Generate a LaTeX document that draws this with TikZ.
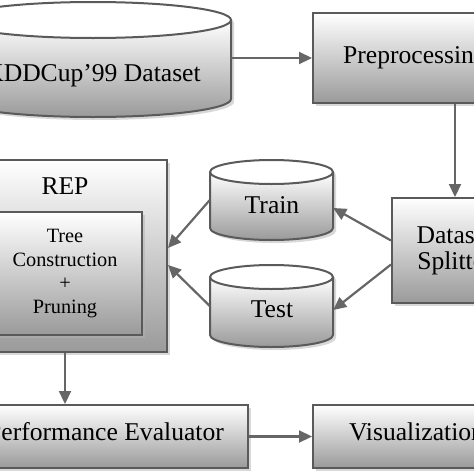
\documentclass[tikz,border=0pt]{standalone}
\usepackage{fontspec}
\setmainfont{Liberation Serif}
\usetikzlibrary{arrows.meta,shadows,calc}
\definecolor{bordercol}{HTML}{5A5A5A}
\definecolor{arrowcol}{HTML}{666666}
\definecolor{shadecol}{HTML}{9A9A9A}
\newcommand\mybigfont{\fontsize{25.6}{26}\selectfont}
\newcommand\mysmallfont{\fontsize{20.3}{23.5}\selectfont}
\tikzset{
  flowbox/.style={draw=bordercol, line width=2pt, top color=white, bottom color=shadecol,
    drop shadow={shadow xshift=3pt, shadow yshift=-3pt, fill=black!30, opacity=0.5},
    inner sep=0pt, align=center, font=\mybigfont},
  lbl/.style={inner sep=0pt, align=center, font=\mybigfont},
  cylarea/.style={inner sep=0pt},
  arr/.style={draw=arrowcol, line width=2.2pt, -{Triangle[length=13pt,width=12pt]}},
  cylborder/.style={draw=bordercol, line width=2pt}
}
% #1 cx, #2 top ellipse centre y, #3 bottom ellipse centre y, #4 rx, #5 ry
\newcommand\dbcyl[5]{%
  \begin{scope}[shift={(3,3)}]
    \fill[black!30, opacity=0.5] (#1-#4,#2) -- (#1-#4,#3) arc[start angle=180,end angle=0,x radius=#4,y radius=#5] -- (#1+#4,#2) arc[start angle=0,end angle=-180,x radius=#4,y radius=#5] -- cycle;
  \end{scope}
  \shade[top color=white, bottom color=shadecol] (#1-#4,#2) -- (#1-#4,#3) arc[start angle=180,end angle=0,x radius=#4,y radius=#5] -- (#1+#4,#2) arc[start angle=0,end angle=180,x radius=#4,y radius=#5] -- cycle;
  \draw[cylborder] (#1-#4,#2) -- (#1-#4,#3) arc[start angle=180,end angle=0,x radius=#4,y radius=#5] -- (#1+#4,#2);
  \draw[cylborder, fill=white] (#1,#2) ellipse[x radius=#4, y radius=#5];
}
\begin{document}
\begin{tikzpicture}[x=1pt,y=-1pt]
\useasboundingbox (0,0) rectangle (474,474);
\clip (0,0) rectangle (474,474);

% cylinders
\dbcyl{93}{20}{99}{138}{18}
\node[cylarea, minimum width=276pt, minimum height=115pt] (kdd) at (93,59.5) {};
\node[lbl] (kddlabel) at (93,76) {KDDCup'99 Dataset};

\dbcyl{271.5}{172}{228}{61.5}{12}
\node[cylarea, minimum width=123pt, minimum height=80pt] (train) at (271.5,200) {};
\node[lbl] (trainlabel) at (272,205) {Train};

\dbcyl{271.5}{277}{335}{61.5}{12}
\node[cylarea, minimum width=123pt, minimum height=82pt] (test) at (271.5,306) {};
\node[lbl] (testlabel) at (272,309.5) {Test};

% boxes
\node[flowbox, minimum width=204pt, minimum height=90pt] (prep) at (415,58) {Preprocessing};
\node[flowbox, minimum width=126pt, minimum height=105pt] (split) at (455,250.5) {Dataset\\Splitter};
\node[flowbox, minimum width=204pt, minimum height=192pt] (rep) at (65,256) {};
\node[lbl] (reptitle) at (65,186) {REP};
\node[flowbox, font=\mysmallfont, minimum width=154pt, minimum height=123pt] (tree) at (65,273.5) {Tree\\Construction\\+\\Pruning};
\node[flowbox, text depth=10pt, minimum width=285pt, minimum height=63pt] (perf) at (105.5,436.5) {Performance Evaluator};
\node[flowbox, text depth=10pt, minimum width=207pt, minimum height=63pt] (vis) at (416.5,436.5) {Visualization};

% connectors
\draw[arr] (kdd.east |- prep.west) -- (prep.west);
\draw[arr] (split.north |- prep.south) -- (split.north);
\draw[arr] ([yshift=10pt]split.west) -- ([yshift=-8pt]train.east);
\draw[arr] ([yshift=-14pt]split.west) -- ([yshift=-4pt]test.east);
\draw[arr] (train.west) -- ([yshift=8pt]rep.east);
\draw[arr] (test.west) -- ([yshift=-9pt]rep.east);
\draw[arr] (rep.south) -- (rep.south |- perf.north);
\draw[arr] (perf.east) -- (vis.west);
\end{tikzpicture}
\end{document}
